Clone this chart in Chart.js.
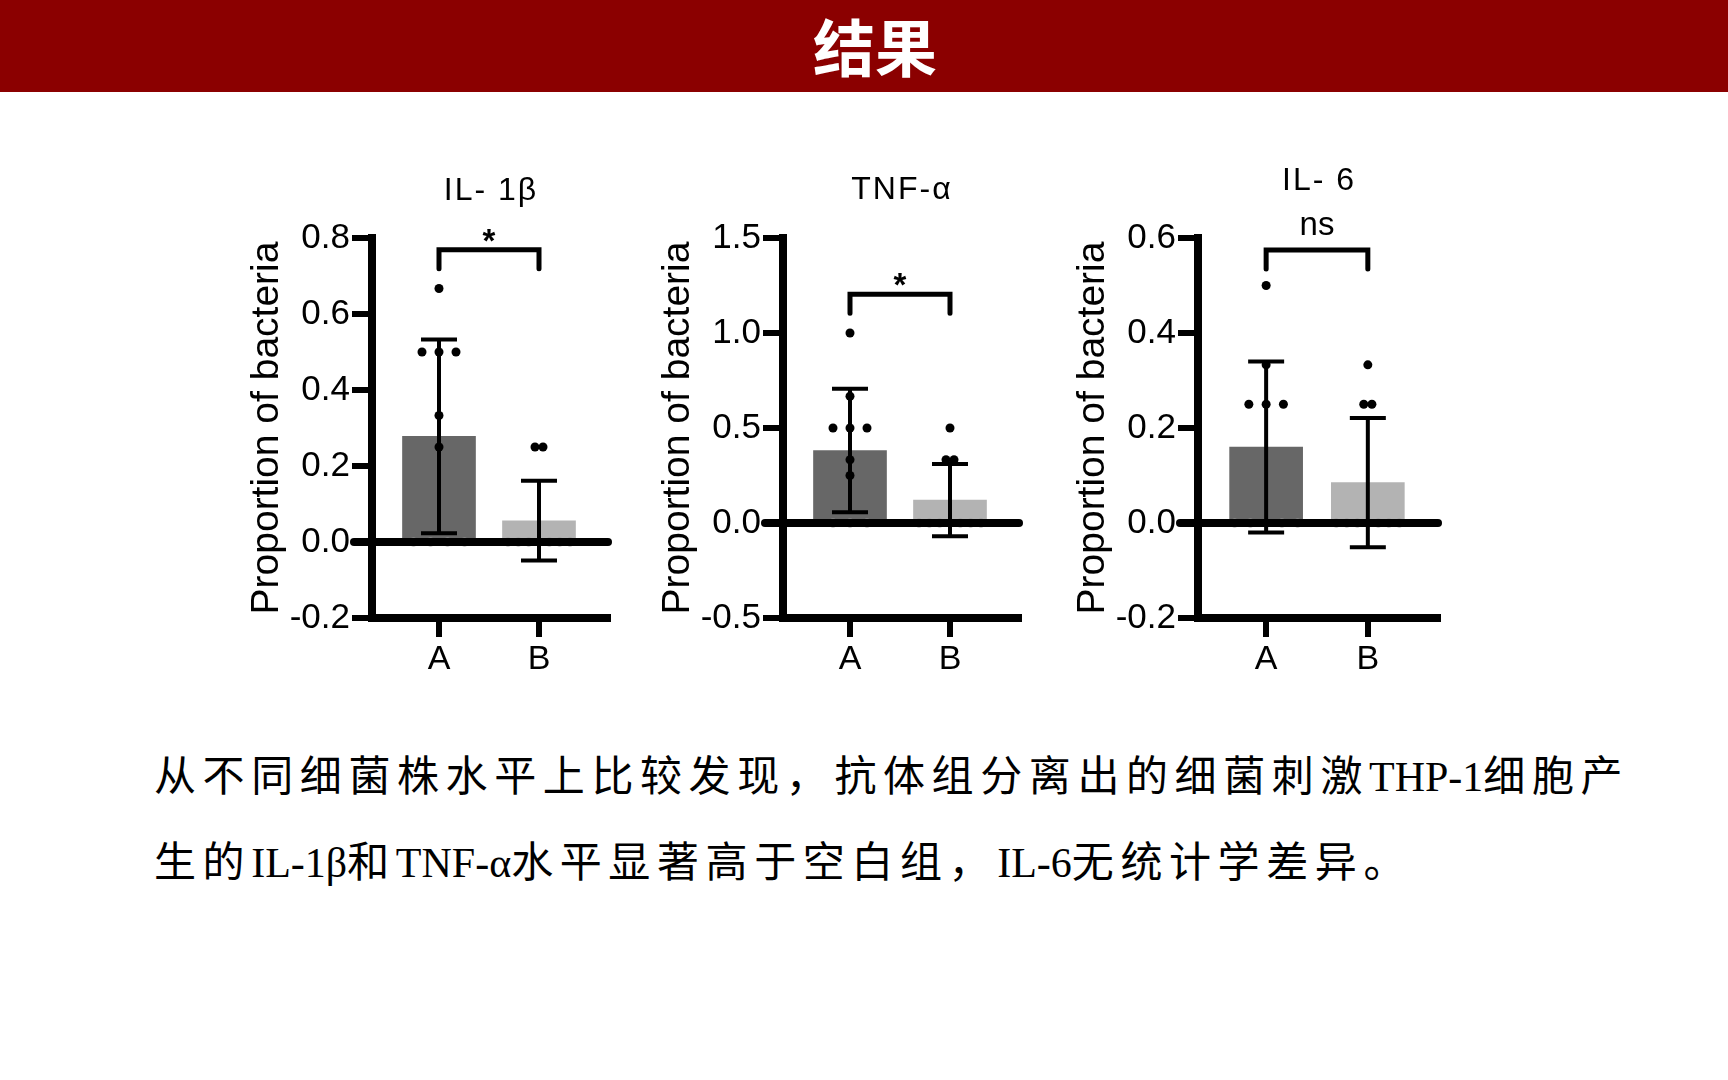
<!DOCTYPE html>
<html>
<head>
<meta charset="utf-8">
<script src="https://cdn.jsdelivr.net/npm/chart.js@4.4.1/dist/chart.umd.min.js"></script>
<style>
html, body { margin: 0; padding: 0; background: #fff; }
body { width: 1728px; height: 1080px; position: relative; overflow: hidden; }
.header { position: absolute; left: 0; top: 0; width: 1728px; height: 92px; background: #8b0000; }
.header h1 { margin: 0; padding-left: 22px; height: 92px; line-height: 96px; text-align: center; color: #fff;
  font: bold 62px "Noto Sans CJK SC", sans-serif; }
.panel { position: absolute; top: 140px; }
.text { position: absolute; left: 154px; margin: 0; color: #000; white-space: nowrap; line-height: 1;
  font-family: "Liberation Serif", "Noto Sans CJK SC", serif; font-size: 42px; letter-spacing: 6.6px; }
.text span { letter-spacing: 0; }
</style>
</head>
<body>
<div class="header"><h1>结果</h1></div>

<canvas id="il1b" class="panel" width="380" height="560" style="left:240px"></canvas>
<canvas id="tnf" class="panel" width="380" height="560" style="left:651px"></canvas>
<canvas id="il6" class="panel" width="384" height="560" style="left:1066px"></canvas>

<p class="text" style="top:756px">从不同细菌株水平上比较发现，抗体组分离出的细菌刺激<span>THP-1</span>细胞产</p>
<p class="text" style="top:842px">生的<span>IL-1β</span>和<span>TNF-α</span>水平显著高于空白组，<span>IL-6</span>无统计学差异。</p>

<script>
const groups = ['A', 'B'];

// IL-1β
const il1bMeans = [0.278, 0.056];
const il1bSD = [0.255, 0.105];
const il1bPointsA = [0.667, 0.5, 0.5, 0.5, 0.333, 0.25, 0, 0, 0, 0];
const il1bPointsB = [0.25, 0.25, 0, 0, 0, 0, 0, 0, 0];
const il1bTicks = [-0.2, 0, 0.2, 0.4, 0.6, 0.8];
const il1bBracket = 0.769;

// TNF-α
const tnfMeans = [0.381, 0.120];
const tnfSD = [0.325, 0.19];
const tnfPointsA = [1.0, 0.667, 0.5, 0.5, 0.5, 0.333, 0.25, 0, 0, 0];
const tnfPointsB = [0.5, 0.333, 0.333, 0, 0, 0, 0, 0, 0, 0];
const tnfTicks = [-0.5, 0, 0.5, 1.0, 1.5];
const tnfBracket = 1.204;

// IL-6
const il6Means = [0.160, 0.085];
const il6SD = [0.18, 0.136];
const il6PointsA = [0.5, 0.333, 0.25, 0.25, 0.25, 0, 0, 0, 0, 0];
const il6PointsB = [0.333, 0.25, 0.25, 0, 0, 0, 0, 0, 0, 0];
const il6Ticks = [-0.2, 0, 0.2, 0.4, 0.6];
const il6Bracket = 0.575;

const FONT = '"Liberation Sans", Arial, sans-serif';
const barColors = ['#676767', '#b3b3b3'];

// lay equal values side by side, like a column scatter
function spread(values, gi) {
    const counts = {};
    const seen = {};
    values.forEach(v => counts[v] = (counts[v] || 0) + 1);
    return values.map(v => {
        const n = counts[v];
        const k = seen[v] = (seen[v] === undefined ? 0 : seen[v] + 1);
        const step = n >= 3 ? Math.min(0.17, 0.62 / (n - 1)) : 0.08;
        return { x: gi + (k - (n - 1) / 2) * step, y: v };
    });
}

function makePanel(id, title, titleGap, means, sd, ptsA, ptsB, ticks, bracket, sig) {
    const extras = {
        id: 'extras',
        afterDatasetsDraw(chart) {
            const { ctx, chartArea: a, scales: { x, y } } = chart;
            const y0 = y.getPixelForValue(0);
            ctx.save();
            ctx.strokeStyle = '#000';
            ctx.fillStyle = '#000';

            // zero line on top of bars
            ctx.lineWidth = 8;
            ctx.lineCap = 'round';
            ctx.beginPath();
            ctx.moveTo(a.left - 18, y0);
            ctx.lineTo(a.right, y0);
            ctx.stroke();

            // error bars (mean ± SD)
            ctx.lineWidth = 4;
            ctx.lineCap = 'butt';
            means.forEach((m, i) => {
                const px = x.getPixelForValue(i);
                const top = y.getPixelForValue(m + sd[i]);
                const bot = y.getPixelForValue(m - sd[i]);
                ctx.beginPath();
                ctx.moveTo(px, top); ctx.lineTo(px, bot);
                ctx.moveTo(px - 18, top); ctx.lineTo(px + 18, top);
                ctx.moveTo(px - 18, bot); ctx.lineTo(px + 18, bot);
                ctx.stroke();
            });

            // significance bracket
            const bx1 = x.getPixelForValue(0);
            const bx2 = x.getPixelForValue(1);
            const by = y.getPixelForValue(bracket);
            ctx.lineWidth = 5;
            ctx.lineCap = 'round';
            ctx.lineJoin = 'miter';
            ctx.beginPath();
            ctx.moveTo(bx1, by + 19);
            ctx.lineTo(bx1, by);
            ctx.lineTo(bx2, by);
            ctx.lineTo(bx2, by + 19);
            ctx.stroke();

            ctx.textAlign = 'center';
            ctx.textBaseline = 'alphabetic';
            if (sig === '*') {
                ctx.font = 'bold 33px ' + FONT;
                ctx.fillText(sig, (bx1 + bx2) / 2, by + 2);
            } else {
                ctx.font = '33px ' + FONT;
                ctx.fillText(sig, (bx1 + bx2) / 2, by - 15);
            }

            // panel title
            ctx.font = '32px ' + FONT;
            ctx.letterSpacing = '2px';
            ctx.fillText(title, (a.left + a.right) / 2 + 1, a.top - titleGap);
            ctx.restore();
        }
    };

    return new Chart(document.getElementById(id), {
        type: 'bar',
        data: {
            datasets: [
                {
                    type: 'bar',
                    data: means.map((m, i) => ({ x: i, y: m })),
                    backgroundColor: barColors,
                    borderWidth: 0,
                    barThickness: 73,
                    order: 2
                },
                {
                    type: 'scatter',
                    data: spread(ptsA, 0).concat(spread(ptsB, 1)),
                    pointRadius: 4.5,
                    pointBorderWidth: 0,
                    pointBackgroundColor: c => (c.raw && c.raw.y === 0) ? '#9a9a9a' : '#000',
                    order: 1
                }
            ]
        },
        options: {
            responsive: false,
            animation: false,
            layout: { padding: { top: 98, right: 12, left: 0, bottom: 0 } },
            plugins: {
                legend: { display: false },
                tooltip: { enabled: false }
            },
            scales: {
                x: {
                    type: 'linear',
                    min: -0.67,
                    max: 1.69,
                    offset: false,
                    afterBuildTicks: s => { s.ticks = groups.map((g, i) => ({ value: i })); },
                    afterFit: s => { s.height = 82; },
                    ticks: {
                        callback: v => groups[v],
                        color: '#000',
                        font: { family: FONT, size: 34 },
                        padding: 2,
                        maxRotation: 0,
                        autoSkip: false
                    },
                    grid: { drawOnChartArea: false, drawTicks: true, tickLength: 19, lineWidth: 6, color: '#000', offset: false },
                    border: { display: true, width: 8, color: '#000' }
                },
                y: {
                    type: 'linear',
                    min: ticks[0],
                    max: ticks[ticks.length - 1],
                    afterBuildTicks: s => { s.ticks = ticks.map(v => ({ value: v })); },
                    afterFit: s => { s.width = 132; },
                    ticks: {
                        callback: v => v.toFixed(1),
                        color: '#000',
                        font: { family: FONT, size: 35 },
                        padding: 2
                    },
                    grid: { drawOnChartArea: false, drawTicks: true, tickLength: 20, lineWidth: 6, color: '#000' },
                    border: { display: true, width: 8, color: '#000' },
                    title: {
                        display: true,
                        text: 'Proportion of bacteria',
                        color: '#000',
                        font: { family: FONT, size: 39 },
                        padding: { top: 4, bottom: 0 }
                    }
                }
            }
        },
        plugins: [extras]
    });
}

makePanel('il1b', 'IL- 1β', 38, il1bMeans, il1bSD, il1bPointsA, il1bPointsB, il1bTicks, il1bBracket, '*');
makePanel('tnf', 'TNF-α', 39, tnfMeans, tnfSD, tnfPointsA, tnfPointsB, tnfTicks, tnfBracket, '*');
makePanel('il6', 'IL- 6', 48, il6Means, il6SD, il6PointsA, il6PointsB, il6Ticks, il6Bracket, 'ns');
</script>
</body>
</html>
